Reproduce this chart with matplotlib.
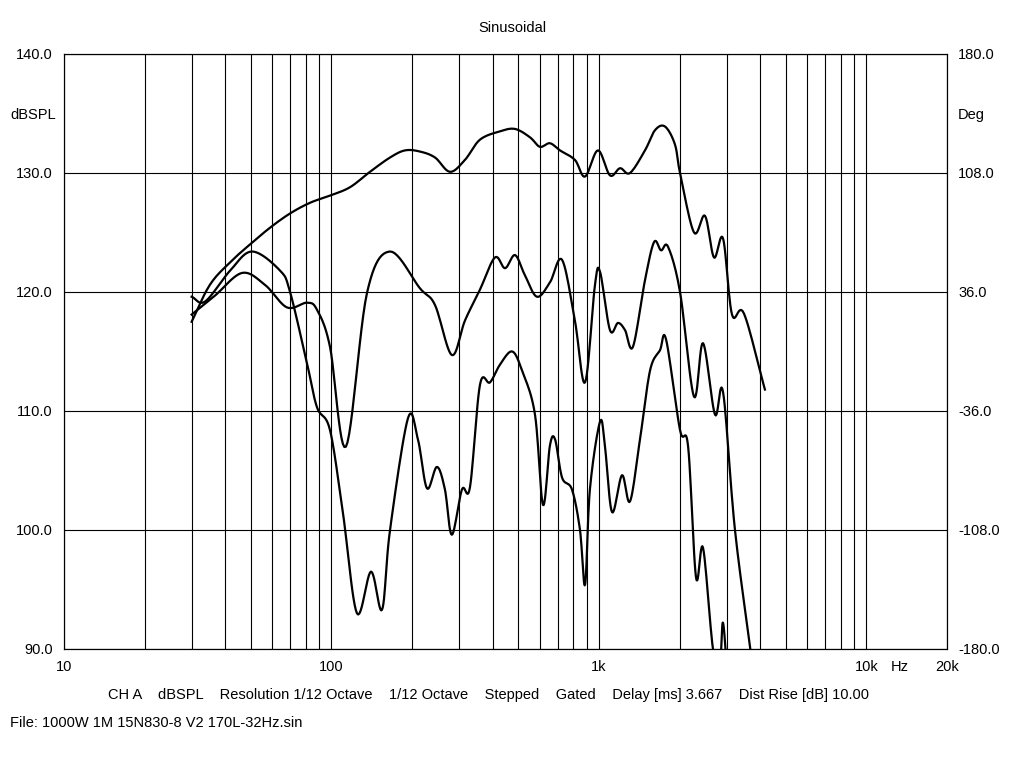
import matplotlib
matplotlib.use('Agg')
import matplotlib.pyplot as plt
from matplotlib.ticker import FixedLocator, NullFormatter
import numpy as np

plt.rcParams['font.family'] = ['Liberation Sans', 'DejaVu Sans']
plt.rcParams['font.size'] = 10.5

# top curve
f_a = [30, 35.1, 41.8, 49.6, 58.9, 70, 83.2, 98.7, 117.2, 139.3, 165.5, 188.4, 214.3,
       243.8, 277.3, 315.5, 359, 426.6, 485.6, 552, 601.4, 655.6, 714.5, 812.8, 887.2,
       991, 1099, 1199, 1306, 1486, 1620, 1766, 1923, 2009, 2266, 2490, 2691, 2909,
       3143, 3481, 4172]
db_a = [117.5, 120.6, 122.5, 124.0, 125.4, 126.6, 127.5, 128.1, 128.8, 130.1, 131.3, 131.9,
        131.8, 131.3, 130.1, 131.1, 132.8, 133.5, 133.7, 133.0, 132.2, 132.5, 131.9, 131.1,
        129.7, 131.9, 129.8, 130.4, 130.0, 131.9, 133.6, 133.9, 132.4, 130.0, 125.0, 126.4,
        122.9, 124.5, 118.1, 118.2, 111.8]

# middle curve
f_b = [30, 36.7, 46.3, 56.4, 68.2, 81, 88.3, 98.7, 113.2, 135.7, 165.5, 214.3, 243.8,
       281.8, 315.5, 359, 408.3, 445.6, 485.6, 528.7, 586.4, 655.6, 727.8, 812.8, 887.2,
       966, 1009, 1099, 1178, 1251, 1340, 1486, 1607, 1706, 1812, 2009, 2266, 2449, 2714,
       2909, 3224, 3730]
db_b = [118.1, 119.7, 121.6, 120.6, 118.7, 119.1, 118.5, 115.4, 107.0, 119.9, 123.4, 120.3,
        118.9, 114.7, 117.6, 120.2, 122.9, 122.0, 123.1, 121.4, 119.6, 120.8, 122.7, 117.6,
        112.4, 120.6, 121.7, 116.8, 117.4, 116.8, 115.4, 121.0, 124.2, 123.5, 123.8, 120.0,
        111.2, 115.7, 109.7, 111.6, 100.0, 89.0]

# bottom curve
f_c = [30, 33.7, 41.8, 50.5, 64.2, 70, 81, 88.3, 98.7, 110.4, 124.5, 140.5, 154.5, 165.5,
       193.2, 210.5, 227.5, 247.8, 265.5, 281.8, 307.4, 329.4, 359, 391.3, 426.6, 473.4,
       515.6, 576.4, 617.6, 655.6, 685.5, 727.8, 792.5, 849.2, 887.2, 924.7, 1009, 1052,
       1119, 1219, 1306, 1423, 1552, 1690, 1782, 2009, 2154, 2306, 2449, 2668, 2834, 2909,
       3037]
db_c = [119.6, 119.2, 121.8, 123.4, 121.8, 120.0, 114.0, 110.3, 108.4, 101.4, 93.0, 96.5,
        93.3, 100.0, 109.4, 107.6, 103.5, 105.3, 103.4, 99.6, 103.4, 103.6, 112.2, 112.4,
        113.9, 115.0, 113.4, 109.7, 102.1, 107.1, 107.6, 104.4, 103.4, 100.0, 95.4, 103.4,
        109.1, 107.1, 101.5, 104.6, 102.4, 107.6, 113.4, 115.1, 116.0, 108.4, 107.0, 96.0,
        98.5, 90.0, 89.0, 92.2, 87.0]

left_ticks = [90, 100, 110, 120, 130, 140]
right_ticks = [-180, -108, -36, 36, 108, 180]
x_major = [10, 100, 1000, 10000, 20000]
x_labels = ['10', '100', '1k', '10k', '20k']


def smooth(f, d, n=12):
    # catmull-rom through the read points, in log-frequency, just for drawing
    x = np.log10(f)
    y = np.array(d, dtype=float)
    xp = np.concatenate([[2 * x[0] - x[1]], x, [2 * x[-1] - x[-2]]])
    yp = np.concatenate([[2 * y[0] - y[1]], y, [2 * y[-1] - y[-2]]])
    xs, ys = [], []
    t = np.linspace(0, 1, n, endpoint=False)
    for i in range(1, len(xp) - 2):
        for arr, out in ((xp, xs), (yp, ys)):
            p0, p1, p2, p3 = arr[i - 1:i + 3]
            out.extend(0.5 * (2 * p1 + (-p0 + p2) * t + (2 * p0 - 5 * p1 + 4 * p2 - p3) * t ** 2
                              + (-p0 + 3 * p1 - 3 * p2 + p3) * t ** 3))
    xs.append(x[-1])
    ys.append(y[-1])
    return 10 ** np.array(xs), np.array(ys)


fig = plt.figure(figsize=(10.24, 7.68), dpi=100)
ax = fig.add_axes([0.0625, 0.155, 0.8623, 0.7747])
for f, d in [(f_a, db_a), (f_b, db_b), (f_c, db_c)]:
    sx, sy = smooth(f, d)
    ax.plot(sx, sy, color='black', lw=1.6)

ax.set_xscale('log')
ax.set_xlim(10, 20000)
ax.set_ylim(90, 140)
minors = [m * 10 ** e for e in range(1, 5) for m in range(2, 10) if m * 10 ** e < 20000]
ax.xaxis.set_major_locator(FixedLocator(x_major))
ax.xaxis.set_minor_locator(FixedLocator(minors))
ax.xaxis.set_minor_formatter(NullFormatter())
ax.set_xticklabels(x_labels)
ax.set_yticks(left_ticks)
ax.set_yticklabels(['%.1f' % v for v in left_ticks])
ax.grid(True, which='both', axis='x', color='black', lw=0.8)
ax.grid(True, which='major', axis='y', color='black', lw=0.8)
ax.tick_params(which='both', length=0, pad=8)
for s in ax.spines.values():
    s.set_linewidth(0.8)

ax2 = ax.twinx()
ax2.set_ylim(-180, 180)
ax2.set_yticks(right_ticks)
ax2.set_yticklabels(['%.1f' % v for v in right_ticks])
ax2.tick_params(length=0, pad=8)

fig.text(0.5, 0.963, 'Sinusoidal', ha='center', va='center')
fig.text(0.01, 0.85, 'dBSPL', ha='left', va='center')
fig.text(0.935, 0.85, 'Deg', ha='left', va='center')
fig.text(0.879, 0.132, 'Hz', ha='center', va='center')
fig.text(0.105, 0.095,
         'CH A    dBSPL    Resolution 1/12 Octave    1/12 Octave    Stepped    Gated    '
         'Delay [ms] 3.667    Dist Rise [dB] 10.00', ha='left', va='center')
fig.text(0.01, 0.058, 'File: 1000W 1M 15N830-8 V2 170L-32Hz.sin', ha='left', va='center')

fig.savefig('out.png', dpi=100, facecolor='white')
